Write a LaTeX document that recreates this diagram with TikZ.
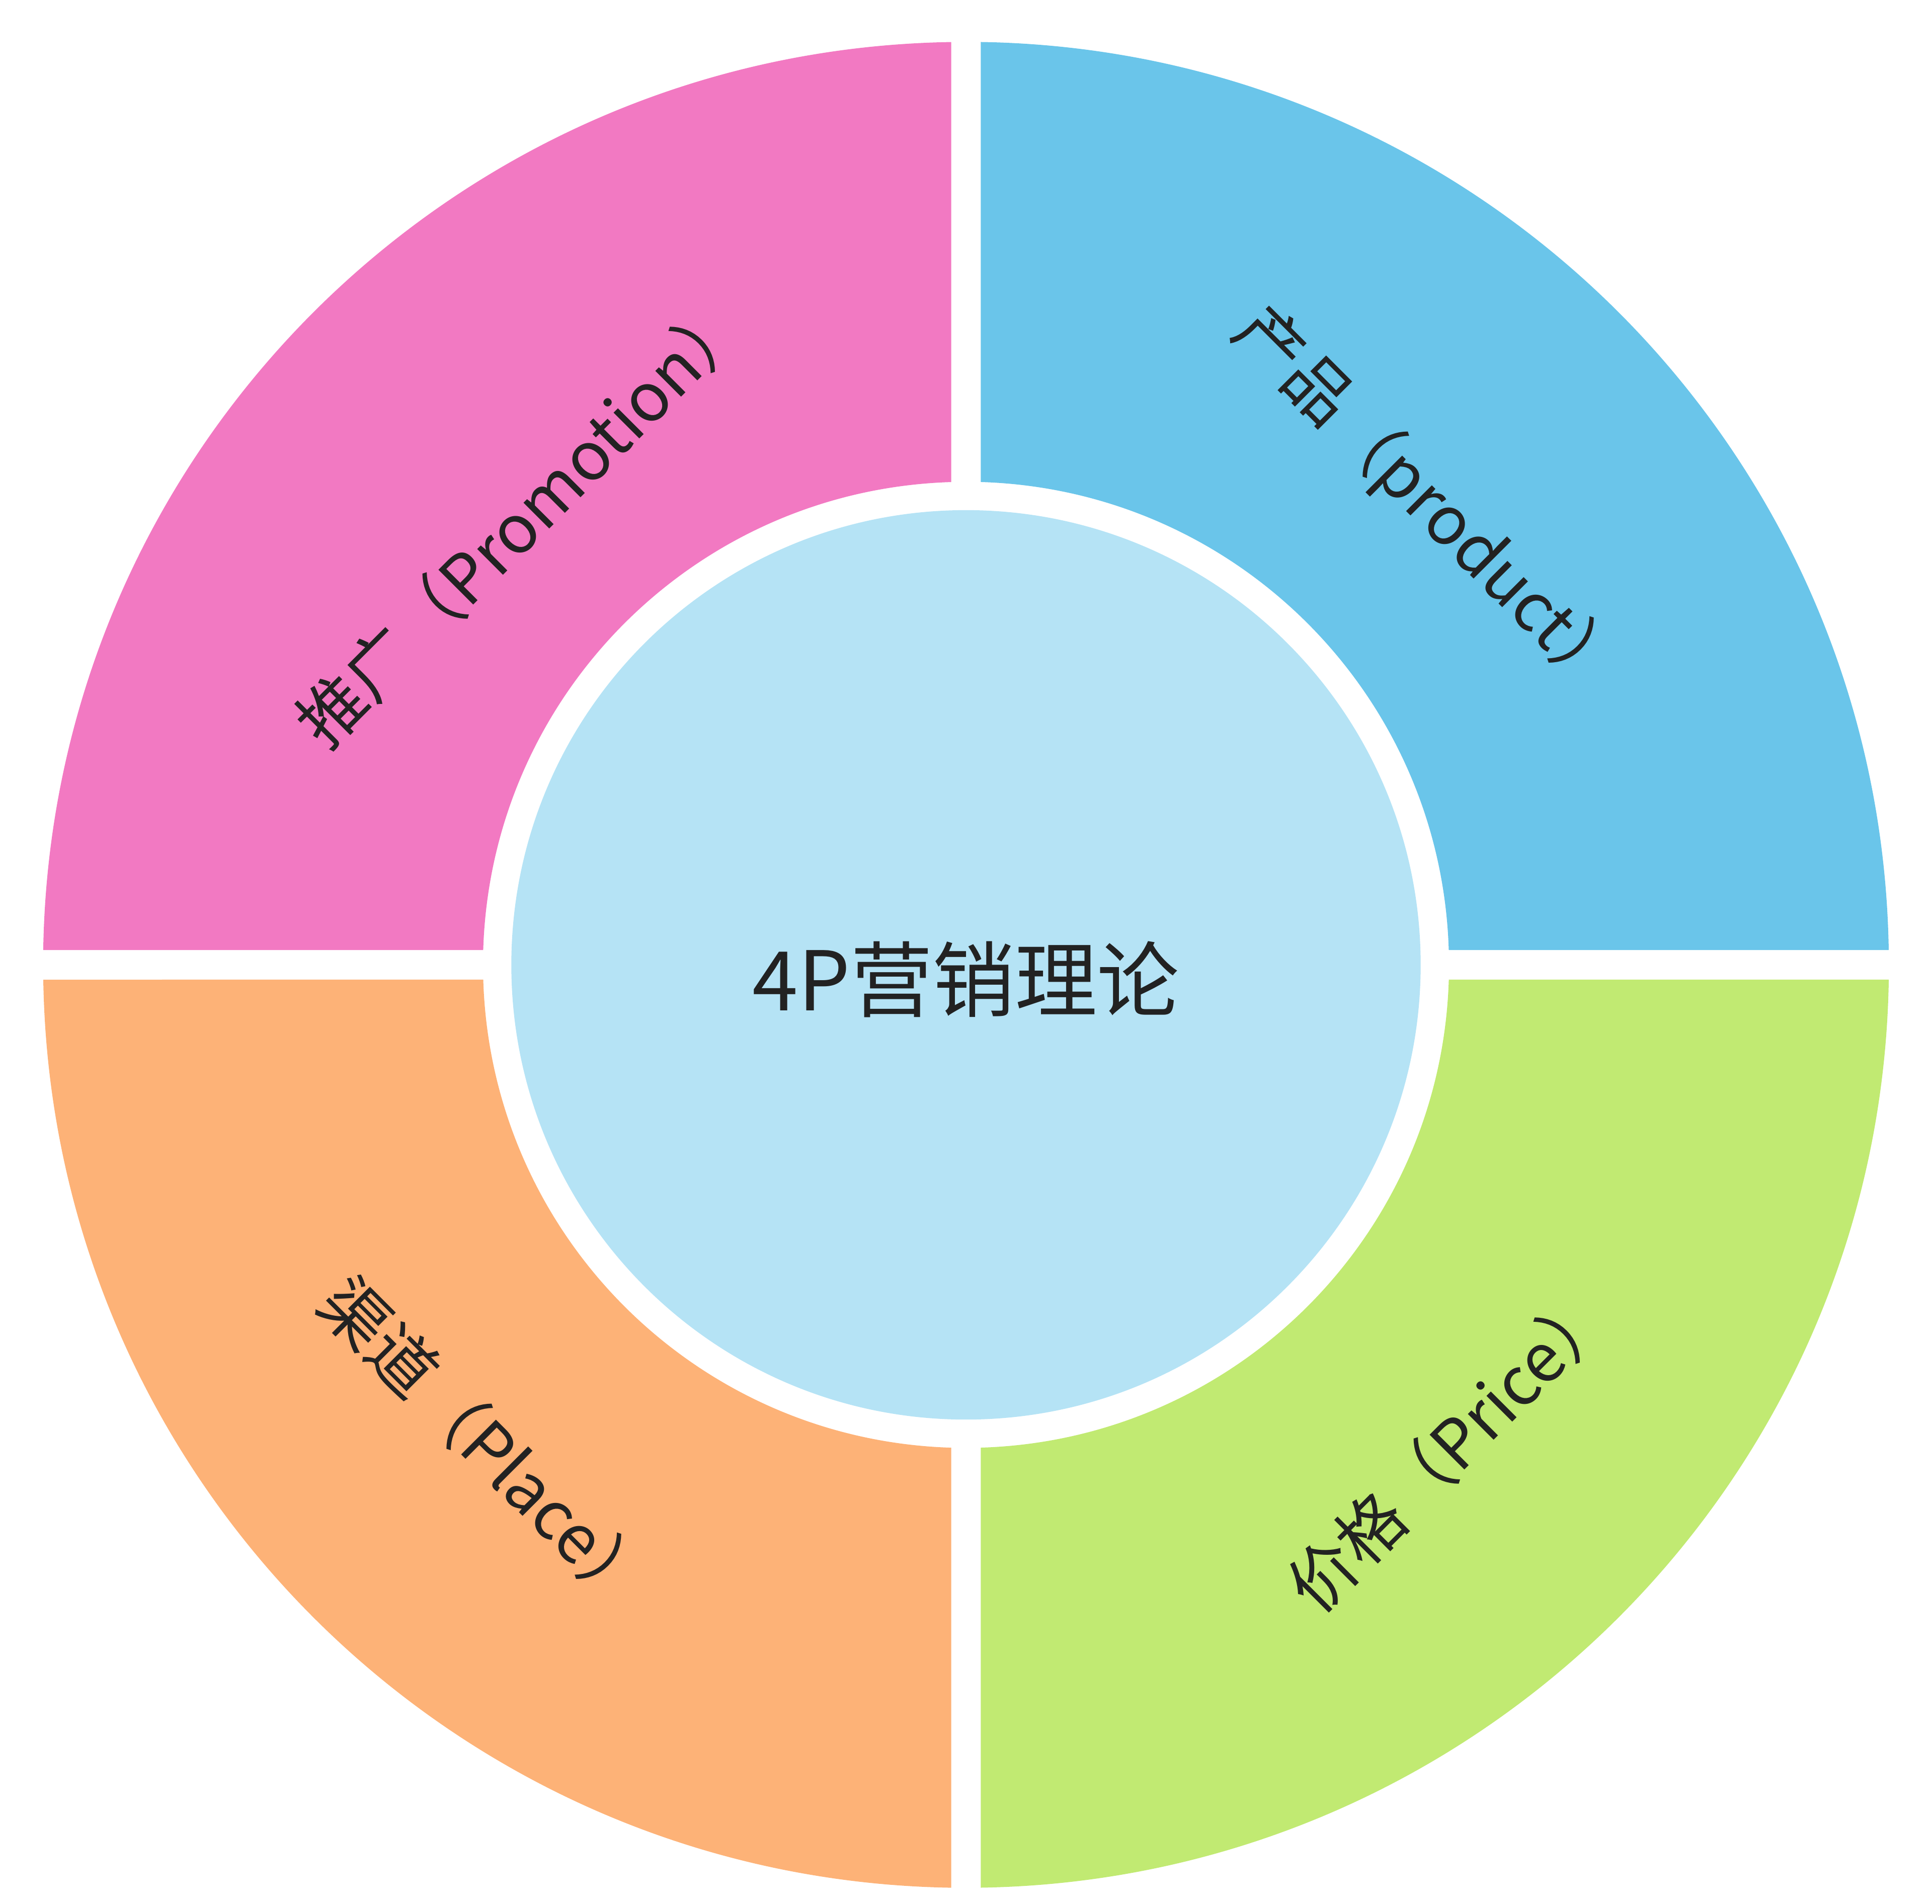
\documentclass[tikz,border=0pt]{standalone}
\usepackage{fontspec}
\setmainfont{Noto Sans CJK SC}
\begin{document}
\begin{tikzpicture}[
  lbl/.style={font=\fontsize{15.5}{18}\selectfont,text=txt,inner sep=0pt}]
\definecolor{cpink}{HTML}{F279C2}
\definecolor{cblue}{HTML}{6AC5EA}
\definecolor{corange}{HTML}{FDB277}
\definecolor{cgreen}{HTML}{C1EA72}
\definecolor{ccenter}{HTML}{B5E3F5}
\definecolor{txt}{HTML}{222222}
\useasboundingbox (-7.84,-7.62) rectangle (7.84,7.83);
\foreach \c/\r in {cblue/0,cpink/90,corange/180,cgreen/270}{
  \fill[\c,rotate=\r] (0.12,3.918) -- (0.12,7.489) arc[start angle=89.08,end angle=0.92,radius=7.49] -- (3.918,0.12) arc[start angle=1.75,end angle=88.25,radius=3.92] -- cycle;
}
\node[circle,fill=ccenter,minimum size=7.38cm,inner sep=0pt] (c) at (0,0) {};
\node[lbl,font=\fontsize{19}{22}\selectfont] (t) at (0,-0.12) {4P营销理论};
\node[lbl,rotate=-45] (pr) at (45:5.3) {产品（product）};
\node[lbl,rotate=45] (pm) at (135:5.1) {推广（Promotion）};
\node[lbl,rotate=-45] (pl) at (225:5.5) {渠道（Place）};
\node[lbl,rotate=45] (pc) at (315:5.55) {价格（Price）};
\end{tikzpicture}
\end{document}
